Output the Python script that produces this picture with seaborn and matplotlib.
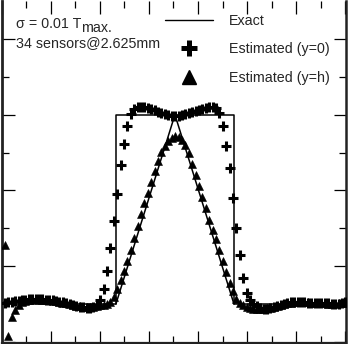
import numpy as np
import pandas as pd
import matplotlib
matplotlib.use("Agg")
import matplotlib.pyplot as plt
from matplotlib.lines import Line2D
from matplotlib.ticker import MultipleLocator, FixedLocator
import seaborn as sns

# ---- data ----
positions = list(range(1, 102))  # sensor sample index along the axis

est_y0 = [0.005, 0.011, 0.011, 0.016, 0.016, 0.021, 0.021, 0.026, 0.026, 0.026,
          0.026, 0.026, 0.021, 0.021, 0.021, 0.016, 0.011, 0.011, 0.005, 0.0,
          -0.005, -0.011, -0.016, -0.016, -0.021, -0.021, -0.016, -0.005, 0.021, 0.079,
          0.174, 0.295, 0.437, 0.584, 0.732, 0.847, 0.942, 1.005, 1.032, 1.042,
          1.042, 1.042, 1.037, 1.032, 1.026, 1.016, 1.011, 1.005, 1.0, 0.995,
          0.995, 0.995, 1.0, 1.005, 1.011, 1.016, 1.021, 1.026, 1.032, 1.037,
          1.042, 1.042, 1.037, 1.011, 0.942, 0.837, 0.716, 0.558, 0.4, 0.258,
          0.137, 0.058, 0.021, 0.0, -0.011, -0.021, -0.026, -0.026, -0.021, -0.016,
          -0.011, -0.005, 0.0, 0.005, 0.011, 0.011, 0.011, 0.011, 0.011, 0.005,
          0.005, 0.005, 0.005, 0.005, 0.005, 0.005, 0.0, 0.0, 0.0, 0.005,
          0.011]

est_yh = [0.311, -0.168, -0.068, -0.032, -0.005, 0.011, 0.016, 0.021, 0.026, 0.026,
          0.026, 0.021, 0.021, 0.021, 0.016, 0.016, 0.011, 0.005, 0.005, 0.0,
          -0.005, -0.011, -0.011, -0.016, -0.016, -0.016, -0.016, -0.011, -0.005, -0.005,
          0.0, 0.011, 0.037, 0.079, 0.126, 0.174, 0.226, 0.284, 0.347, 0.411,
          0.474, 0.532, 0.589, 0.647, 0.705, 0.758, 0.805, 0.837, 0.863, 0.879,
          0.889, 0.884, 0.868, 0.842, 0.8, 0.742, 0.684, 0.621, 0.563, 0.505,
          0.442, 0.389, 0.342, 0.284, 0.226, 0.168, 0.111, 0.068, 0.026, 0.005,
          -0.005, -0.016, -0.021, -0.026, -0.026, -0.026, -0.026, -0.021, -0.021, -0.016,
          -0.011, -0.005, 0.0, 0.005, 0.005, 0.011, 0.011, 0.011, 0.011, 0.011,
          0.005, 0.005, 0.005, 0.005, 0.005, 0.0, 0.0, 0.0, 0.005, 0.005,
          0.005]

exact_rect_x = [0, 33.6, 33.6, 68.3, 68.3, 101.2]
exact_rect_y = [0, 0, 1, 1, 0, 0]
exact_tri_x = [33.6, 50.95, 68.3]
exact_tri_y = [0, 1, 0]

legend_labels = ["Exact", "Estimated (y=0)", "Estimated (y=h)"]
note_line1 = "σ = 0.01 T"
note_sub = "max."
note_line2 = "34 sensors@2.625mm"

# ---- style ----
sns.set_theme(style="ticks")
plt.rcParams["font.family"] = ["Liberation Sans", "DejaVu Sans"]
FS = 10.3

W, H = 349, 344
fig = plt.figure(figsize=(W / 100, H / 100), dpi=100)
ax = fig.add_axes([1.5 / W, 1 / H, (346 - 1.5) / W, (343 - 1) / H])

df_y0 = pd.DataFrame({"x": positions, "y": est_y0})
df_yh = pd.DataFrame({"x": positions, "y": est_yh})

sns.lineplot(x=exact_rect_x, y=exact_rect_y, ax=ax, color="black", lw=1.1,
             sort=False, estimator=None, zorder=2)
sns.lineplot(x=exact_tri_x, y=exact_tri_y, ax=ax, color="black", lw=1.1,
             sort=False, estimator=None, zorder=2)
sns.lineplot(data=df_y0, x="x", y="y", ax=ax, ls="none", marker="+", ms=6.6,
             mew=2.2, mec="black", color="black", sort=False, estimator=None, zorder=3)
sns.lineplot(data=df_yh, x="x", y="y", ax=ax, ls="none", marker="^", ms=5.5,
             mew=0.4, mec="black", color="black", sort=False, estimator=None, zorder=3)

ax.set_xlim(0, 101.2)
ax.set_ylim(-0.205, 1.6)
ax.set_xlabel("")
ax.set_ylabel("")

ax.xaxis.set_major_locator(MultipleLocator(101 / 7))
ax.xaxis.set_minor_locator(MultipleLocator(101 / 14))
ax.yaxis.set_major_locator(FixedLocator([-0.2, 0.2, 0.6, 1.0, 1.4]))
ax.yaxis.set_minor_locator(FixedLocator([0.0, 0.4, 0.8, 1.2]))
ax.tick_params(which="both", direction="in", top=True, right=True,
               labelbottom=False, labelleft=False, color="black", width=0.9)
ax.tick_params(which="major", length=9)
ax.tick_params(which="minor", length=5)

for s in ["left", "right", "bottom"]:
    ax.spines[s].set_color("#222222")
ax.spines["left"].set_linewidth(2.0)
ax.spines["right"].set_linewidth(1.8)
ax.spines["bottom"].set_linewidth(1.6)
ax.spines["top"].set_visible(False)

handles = [
    Line2D([], [], color="black", lw=1.0),
    Line2D([], [], ls="none", marker="+", ms=12, mew=3.6, color="black"),
    Line2D([], [], ls="none", marker="^", ms=10, color="black"),
]
fig.legend(handles, legend_labels, loc="upper left", frameon=False,
           bbox_to_anchor=(165 / W, 1 - 14 / H), bbox_transform=fig.transFigure,
           borderpad=0, borderaxespad=0, fontsize=FS, handlelength=3.36,
           handletextpad=1.1, labelspacing=1.0)

fig.text(16 / W, 1 - 28 / H, note_line1, fontsize=FS, va="baseline", ha="left")
fig.text(81 / W, 1 - 32 / H, note_sub, fontsize=FS, va="baseline", ha="left")
fig.text(16 / W, 1 - 47 / H, note_line2, fontsize=FS, va="baseline", ha="left")

fig.savefig("out.png", dpi=100)
